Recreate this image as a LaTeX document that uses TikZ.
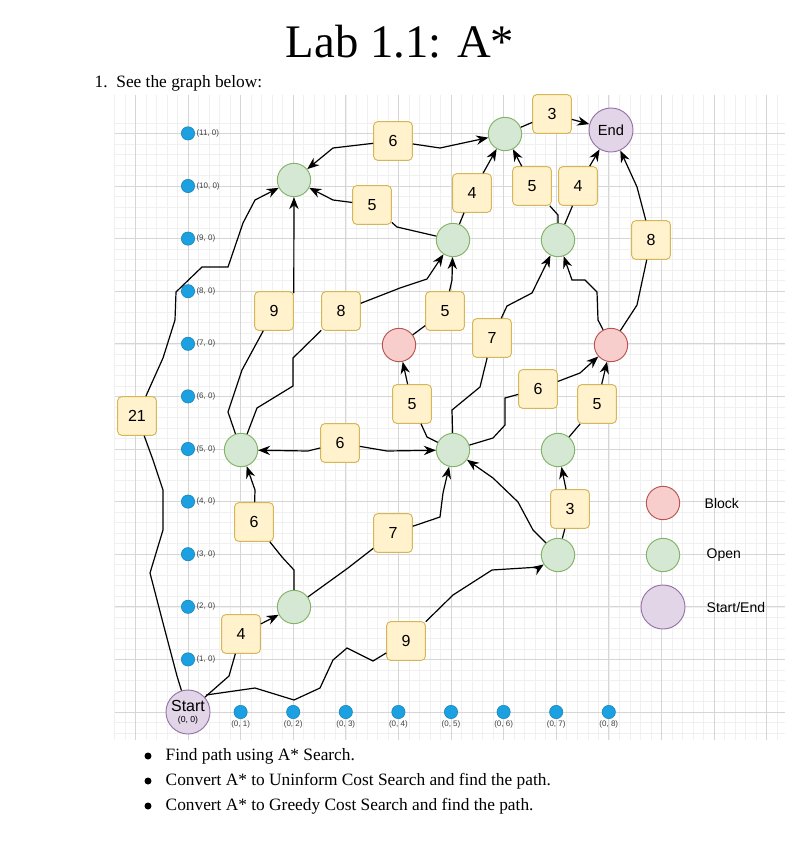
\documentclass[tikz,border=0pt]{standalone}
\usepackage{fontspec}
\setmainfont{Liberation Serif}
\setsansfont{Liberation Sans}
\usetikzlibrary{arrows.meta}
\definecolor{yfill}{HTML}{FFF2CC}\definecolor{ydraw}{HTML}{D6B656}
\definecolor{gfill}{HTML}{D5E8D4}\definecolor{gdraw}{HTML}{82B366}
\definecolor{rfill}{HTML}{F8CECC}\definecolor{rdraw}{HTML}{B85450}
\definecolor{pfill}{HTML}{E1D5E7}\definecolor{pdraw}{HTML}{9673A6}
\definecolor{bdot}{HTML}{1BA1E2}
\tikzset{
 lbl/.style={draw=ydraw,fill=yfill,rounded corners=3pt,minimum size=29pt,inner sep=0pt,font=\sffamily\fontsize{12}{12}\selectfont,line width=0.7pt},
 gn/.style={circle,draw=gdraw,fill=gfill,minimum size=25pt,inner sep=0pt,line width=0.7pt},
 rn/.style={circle,draw=rdraw,fill=rfill,minimum size=25pt,inner sep=0pt,line width=0.7pt},
 pn/.style={circle,draw=pdraw,fill=pfill,minimum size=33pt,inner sep=0pt,line width=0.7pt,font=\sffamily\fontsize{11}{11}\selectfont,align=center},
 ax/.style={circle,fill=bdot,draw=bdot!80!black,minimum size=10pt,inner sep=0pt},
 axl/.style={font=\sffamily\fontsize{6}{6.5}\selectfont,text=black!75,inner sep=1pt},
 e/.style={line width=0.9pt},
 ea/.style={line width=0.9pt,-{Stealth[length=9pt,width=7pt]}},
 lg/.style={font=\sffamily\fontsize{10.5}{12}\selectfont,anchor=west},
}
\begin{document}
\begin{tikzpicture}[x=0.75pt,y=-0.75pt]
\useasboundingbox (0,0) rectangle (807,852);
\fill[white] (0,0) rectangle (807,852);
% grid
\foreach \i in {-7,...,57} {\pgfmathsetmacro\xx{188+10.52*\i}
  \ifdim \xx pt>114pt \ifdim \xx pt<786pt \draw[black!6,line width=0.4pt] (\xx,95) -- (\xx,740);\fi\fi}
\foreach \i in {-56,...,5} {\pgfmathsetmacro\yy{712+10.52*\i}
  \ifdim \yy pt>94pt \ifdim \yy pt<741pt \draw[black!6,line width=0.4pt] (115,\yy) -- (785,\yy);\fi\fi}
\foreach \i in {-1,...,11} {\draw[black!16,line width=0.5pt] (188+52.6*\i,95) -- (188+52.6*\i,740);}
\foreach \i in {-11,...,0} {\draw[black!16,line width=0.5pt] (115,712+52.6*\i) -- (785,712+52.6*\i);}
% title
\node (title) at (400,42) {\fontsize{35}{38}\selectfont Lab 1.1: A*};
\node[anchor=west] (q1) at (90,83) {\fontsize{13}{14}\selectfont 1.\ \ See the graph below:};
% axes
\foreach \k/\n in {11/a11,10/a10,9/a9,8/a8,7/a7,6/a6,5/a5,4/a4,3/a3,2/a2,1/a1} {
  \node[ax] (\n) at (188,712-52.6*\k) {};
  \node[axl,anchor=west] at (\n.east) {(\k, 0)};}
\foreach \k in {1,...,8} {
  \node[ax] (b\k) at (188+52.6*\k,712) {};
  \node[axl,anchor=north] at (b\k.south) {(0, \k)};}
% nodes
\node[pn] (S) at (188,712) {\fontsize{12}{12}\selectfont Start\\[-3pt]{\fontsize{6.5}{6.5}\selectfont (0, 0)}};
\node[pn] (E) at (611,130) {End};
\node[gn] (G1) at (505,134) {};
\node[gn] (G2) at (294,180) {};
\node[gn] (G3) at (453,240) {};
\node[gn] (G4) at (558,240) {};
\node[gn] (G5) at (241,450) {};
\node[gn] (G6) at (453,450) {};
\node[gn] (G7) at (558,450) {};
\node[gn] (G8) at (558,555) {};
\node[gn] (G9) at (294,607) {};
\node[rn] (R1) at (399,345) {};
\node[rn] (R2) at (611,345) {};
% labels
\node[lbl] (L6a) at (393,141) {6};
\node[lbl] (L3a) at (552,114) {3};
\node[lbl] (L5a) at (372,205) {5};
\node[lbl] (L4a) at (472,193) {4};
\node[lbl] (L5b) at (532,186) {5};
\node[lbl] (L4b) at (578,186) {4};
\node[lbl] (L8a) at (651,240) {8};
\node[lbl] (L9a) at (274,311) {9};
\node[lbl] (L8b) at (341,311) {8};
\node[lbl] (L5c) at (445,311) {5};
\node[lbl] (L7a) at (492,338) {7};
\node[lbl] (L21) at (137,416) {21};
\node[lbl] (L6b) at (340,443) {6};
\node[lbl] (L5d) at (412,404) {5};
\node[lbl] (L6c) at (538,389) {6};
\node[lbl] (L5e) at (597,404) {5};
\node[lbl] (L6d) at (254,522) {6};
\node[lbl] (L7b) at (393,533) {7};
\node[lbl] (L3b) at (570,509) {3};
\node[lbl] (L4c) at (241,634) {4};
\node[lbl] (L9b) at (406,641) {9};
% edges
\draw[e] (S) -- (229,676) -- (L4c);
\draw[ea] (L4c) -- (G9);
\draw[e] (206,695) -- (255,688) -- (294,700) -- (320,688) -- (333,660) -- (347,648) -- (373,661) -- (L9b);
\draw[ea] (L9b) -- (453,595) -- (492,570) -- (540,567) -- (G8);
\draw[e] (S) -- (177,676) -- (163,623) -- (150,573) -- (163,530) -- (163,490) -- (153,460) -- (L21);
\draw[ea] (L21) -- (163,358) -- (175,320) -- (176,292) -- (202,267) -- (228,267) -- (243,223) -- (255,200) -- (G2);
\draw[e] (G9) -- (294,570) -- (282,557) -- (L6d);
\draw[ea] (L6d) -- (255,490) -- (G5);
\draw[e] (G9) -- (348,568) -- (L7b);
\draw[ea] (L7b) -- (440,517) -- (443,493) -- (G6);
\draw[ea] (G8) -- (533,530) -- (518,502) -- (493,478) -- (G6);
\draw[e] (G8) -- (L3b);
\draw[ea] (L3b) -- (G7);
\draw[e] (G7) -- (L5e);
\draw[ea] (L5e) -- (R2);
\draw[e] (G6) -- (493,438) -- (505,425) -- (505,398) -- (L6c);
\draw[ea] (L6c) -- (580,373) -- (R2);
\draw[e] (G6) -- (427,437) -- (L5d);
\draw[ea] (L5d) -- (R1);
\draw[ea] (L6b) -- (308,451) -- (G5);
\draw[ea] (L6b) -- (387,451) -- (G6);
\draw[e] (G6) -- (452,410) -- (480,387) -- (L7a);
\draw[ea] (L7a) -- (507,306) -- (532,293) -- (G4);
\draw[ea] (R2) -- (598,320) -- (597,292) -- (585,280) -- (572,280) -- (G4);
\draw[e] (R2) -- (637,305) -- (L8a);
\draw[ea] (L8a) -- (637,187) -- (E);
\draw[e] (R1) -- (L5c);
\draw[ea] (L5c) -- (452,280) -- (G3);
\draw[e] (G5) -- (257,408) -- (293,386) -- (293,358) -- (L8b);
\draw[ea] (L8b) -- (400,288) -- (427,279) -- (G3);
\draw[e] (G5) -- (228,412) -- (242,370) -- (L9a);
\draw[ea] (L9a.north east) ++(0,2) -- (G2);
\draw[e] (G3) -- (397,227) -- (L5a);
\draw[ea] (L5a) -- (333,200) -- (G2);
\draw[e] (G3) -- (L4a);
\draw[ea] (L4a) -- (G1);
\draw[ea] (L6a) -- (333,148) -- (G2);
\draw[ea] (L6a) -- (440,148) -- (G1);
\draw[e] (G4) -- (558,215) -- (L5b);
\draw[ea] (L5b) -- (G1);
\draw[e] (G4) -- (572,207) -- (L4b);
\draw[ea] (L4b) -- (E);
\draw[e] (G1) -- (L3a);
\draw[ea] (L3a) -- (E);
% legend
\node[rn] (kB) at (663,503) {}; \node[lg] (tB) at (700,503) {Block};
\node[gn] (kO) at (663,555) {}; \node[lg] (tO) at (702,555) {Open};
\node[pn] (kS) at (663,607) {}; \node[lg] (tS) at (702,607) {Start/End};
% bullets
\foreach \yy/\t [count=\c] in {756/{Find path using A* Search.},781/{Convert A* to Uninform Cost Search and find the path.},806/{Convert A* to Greedy Cost Search and find the path.}} {
  \fill (148,\yy) circle (3.5);
  \node[anchor=west,font=\fontsize{13}{14}\selectfont] (t\c) at (161,\yy) {\t};}
\end{tikzpicture}
\end{document}
